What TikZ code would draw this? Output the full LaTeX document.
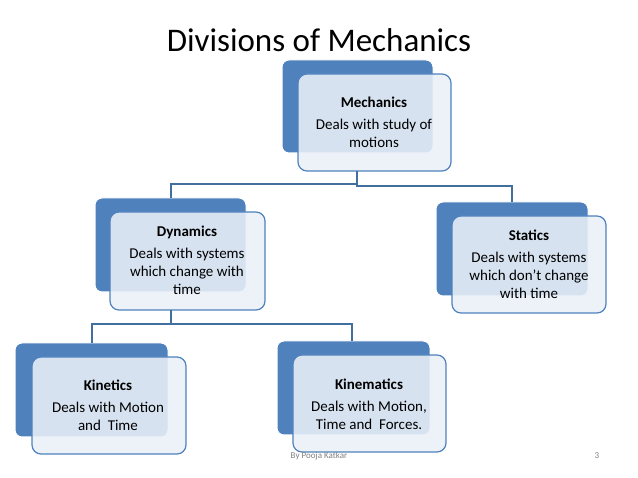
\documentclass[tikz,border=0pt]{standalone}
\usepackage{fontspec}
\setmainfont{Carlito}
\usetikzlibrary{calc}
\definecolor{blu}{HTML}{4F81BD}
\definecolor{lite}{HTML}{EAF0F8}
\definecolor{line}{HTML}{41709F}
\begin{document}
\begin{tikzpicture}[x=1pt,y=-1pt,
  backbox/.style={fill=blu,draw=white,line width=1pt,rounded corners=7pt},
  frontbox/.style={fill=lite,fill opacity=0.88,draw=blu,line width=1.2pt,rounded corners=9pt},
  txt/.style={font=\fontsize{15}{18}\selectfont,align=center,text=black},
  conn/.style={draw=line,line width=1.3pt}]
\useasboundingbox (0,0) rectangle (638,478);
\node[font=\fontsize{33}{38}\selectfont] (title) at (319,40) {Divisions of Mechanics};
% Mechanics
\draw[backbox] (282,60) rectangle (433,153);
\draw[frontbox] (298,74) rectangle (451,171);
\node[txt] (mech) at (374,122) {\textbf{Mechanics}\\[4pt]Deals with study of\\motions};
\coordinate (mb) at (357,171);
% Dynamics
\draw[backbox] (95,198) rectangle (246,292);
\draw[frontbox] (110,212) rectangle (265,310);
\node[txt] (dyn) at (187,260) {\textbf{Dynamics}\\[4pt]Deals with systems\\which change with\\time};
\coordinate (dt) at (171,198);
\coordinate (db) at (171,310);
% Statics
\draw[backbox] (436,202) rectangle (588,296);
\draw[frontbox] (452,216) rectangle (606,313);
\node[txt] (stat) at (529,264) {\textbf{Statics}\\[4pt]Deals with systems\\which don’t change\\with time};
\coordinate (st) at (512,202);
% Kinetics
\draw[backbox] (15,343) rectangle (168,437);
\draw[frontbox] (32,357) rectangle (186,454);
\node[txt] (kin) at (108,405) {\textbf{Kinetics}\\[4pt]Deals with Motion\\and\ \ Time};
\coordinate (kt) at (92,343);
% Kinematics
\draw[backbox] (277,341) rectangle (430,435);
\draw[frontbox] (293,355) rectangle (446,452);
\node[txt] (kinem) at (369,404) {\textbf{Kinematics}\\[4pt]Deals with Motion,\\Time and\ \ Forces.};
\coordinate (kmt) at (352,341);
% connectors
\draw[conn] (mb) |- ($(dt)+(0,-14)$) -- (dt);
\draw[conn] (mb) |- ($(st)+(0,-16)$) -- (st);
\draw[conn] (db) |- ($(kt)+(0,-19)$) -- (kt);
\draw[conn] (db) |- ($(kmt)+(0,-17)$) -- (kmt);
\node[font=\fontsize{9}{10}\selectfont,text=gray] (by) at (319,456) {By Pooja Katkar};
\node[font=\fontsize{9}{10}\selectfont,text=gray] (pg) at (597,456) {3};
\end{tikzpicture}
\end{document}
